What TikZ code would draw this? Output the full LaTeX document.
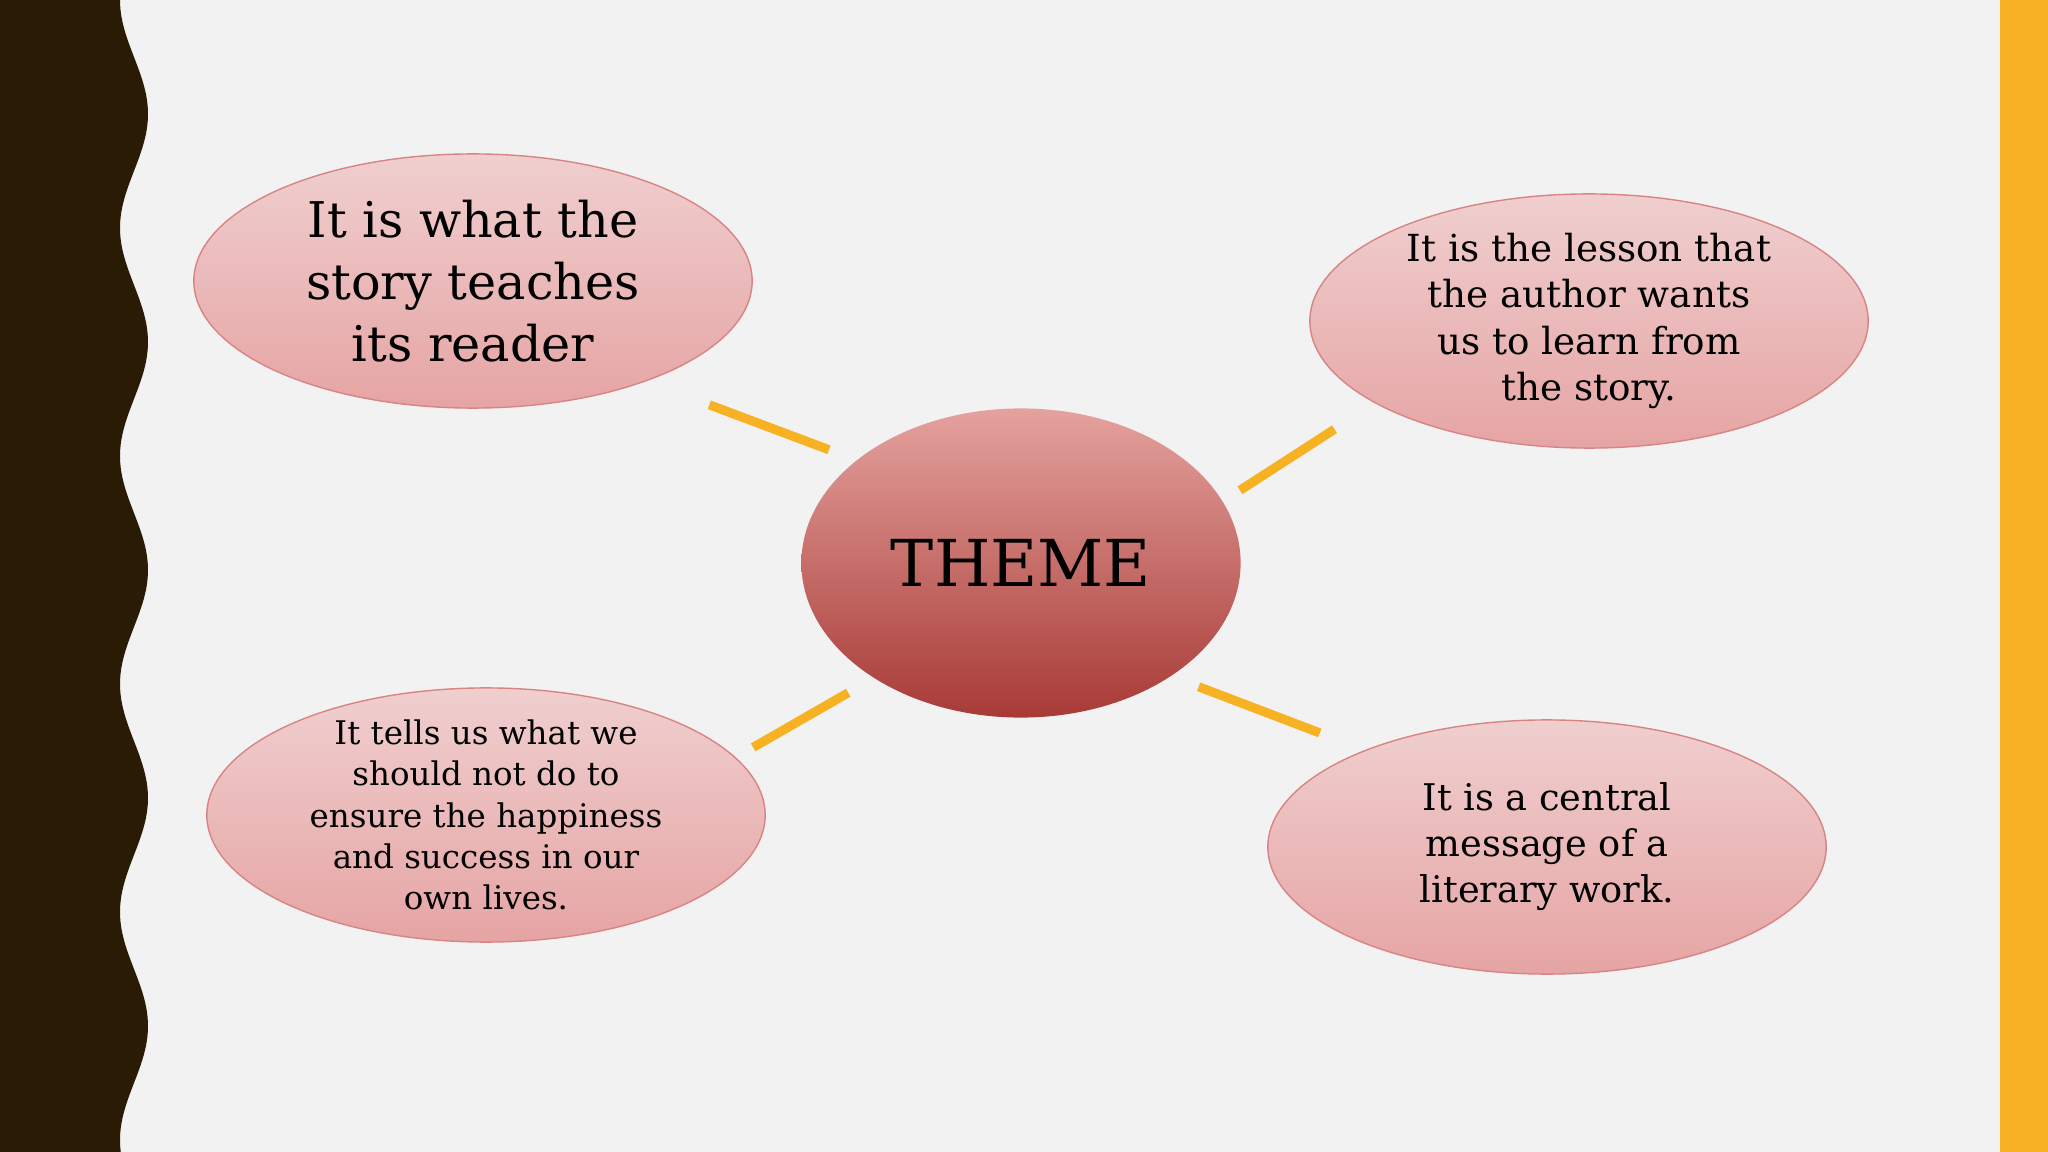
\documentclass[tikz,border=0pt]{standalone}
\usepackage{fontspec}
\setmainfont{DejaVu Serif}
\usetikzlibrary{shapes.geometric}
\definecolor{paper}{HTML}{F2F2F2}
\definecolor{bark}{HTML}{2A1B05}
\definecolor{amber}{HTML}{F7B224}
\definecolor{blushtop}{HTML}{F0CFCF}
\definecolor{blushbot}{HTML}{E6A4A4}
\definecolor{blushline}{HTML}{D88484}
\definecolor{rosetop}{HTML}{E4A29E}
\definecolor{rosemid}{HTML}{D4716C}
\definecolor{rosebot}{HTML}{A83A36}
\tikzset{
  bubble/.style={ellipse, draw=blushline, line width=0.4pt,
    top color=blushtop, bottom color=blushbot,
    minimum width=5.58cm, minimum height=2.54cm, inner sep=0pt, align=center},
  hub/.style={ellipse, top color=rosetop, middle color=rosemid, bottom color=rosebot,
    minimum width=4.39cm, minimum height=3.09cm, inner sep=0pt},
  spoke/.style={draw=amber, line width=2.6pt}
}
\begin{document}
\begin{tikzpicture}[x=0.01cm, y=-0.01cm]
      \useasboundingbox (0,0) rectangle (2048,1152);
      \fill[paper] (0,0) rectangle (2048,1152);
      \fill[bark] (0,0) -- plot[domain=0:1152, samples=240] ({134-14*cos(1.5789*\x)}, \x)
        -- (0,1152) -- cycle;
      \fill[amber] (2000,0) rectangle (2048,1152);
      \node[hub, font=\fontsize{18.4pt}{22pt}\selectfont] (theme) at (1021,563) {THEME};
      \node[bubble, font=\fontsize{14pt}{17.6pt}\selectfont] (reader) at (473,281)
        {It is what the\\ story teaches\\ its reader};
      \node[bubble, font=\fontsize{10.6pt}{13.1pt}\selectfont] (lesson) at (1589,321)
        {It is the lesson that\\ the author wants\\ us to learn from\\ the story.};
      \node[bubble, inner ysep=-0.06cm, font=\fontsize{9.25pt}{11.7pt}\selectfont] (happiness) at (486,815)
        {It tells us what we\\ should not do to\\ ensure the happiness\\ and success in our\\ own lives.};
      \node[bubble, font=\fontsize{10.45pt}{13.1pt}\selectfont] (message) at (1547,847)
        {It is a central\\ message of a\\ literary work.};
      \begin{scope}[spoke]
        \draw[shorten <=0.29cm, shorten >=0.67cm] (theme.148) to (reader.-30);
        \draw[shorten <=0.20cm, shorten >=0.48cm] (theme.17) to (lesson.201);
        \draw[shorten <=0.29cm, shorten >=0.20cm] (theme.218) to (happiness.13);
        \draw[shorten <=0.29cm, shorten >=0.48cm] (theme.-37) to (message.152);
      \end{scope}
    \end{tikzpicture}
\end{document}
